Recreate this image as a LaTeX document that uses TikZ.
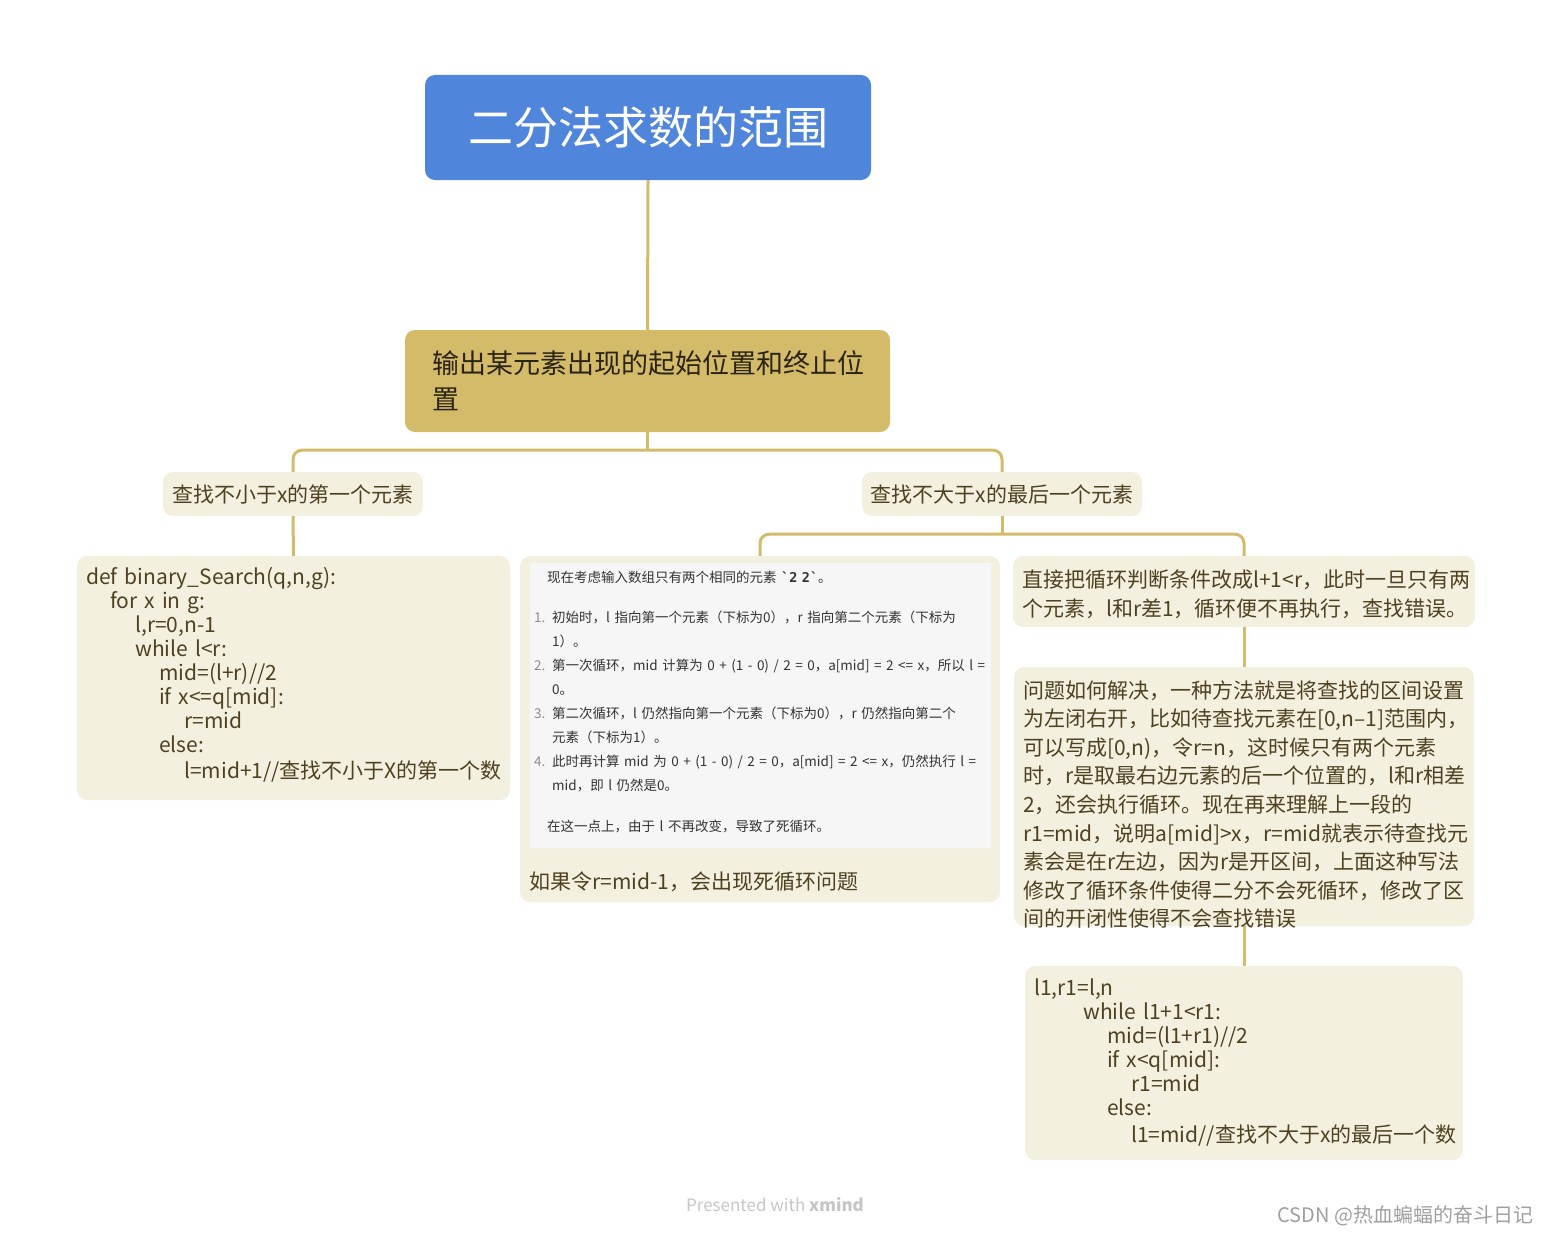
\documentclass[tikz,border=0pt]{standalone}
\usepackage{fontspec}
\setmainfont{Noto Sans CJK SC}
\setmonofont{DejaVu Sans Mono}
\usetikzlibrary{positioning, calc}
\definecolor{zhuti}{HTML}{4F86DB}
\definecolor{jin}{HTML}{D4BB6A}
\definecolor{mi}{HTML}{F4F0E0}
\definecolor{hui}{HTML}{F6F6F6}
\definecolor{he}{HTML}{4D4120}
\definecolor{heise}{HTML}{2A2414}
\definecolor{wenhui}{HTML}{333333}
\definecolor{xuhao}{HTML}{8C8C8C}
\newcommand{\zihao}[2]{\fontsize{#1}{#2}\selectfont}
\newcommand{\suojin}[1]{\hspace*{#1pt}}
\newcommand{\xh}[1]{\makebox[18pt][l]{\color{xuhao}#1}}

\begin{document}
\begin{tikzpicture}[x=1pt, y=-1pt,
    kuang/.style={rounded corners=10pt, inner sep=0pt, fill=mi, text=he},
    lian/.style={draw=jin, line width=3pt, rounded corners=9pt},
    wenzi/.style={anchor=base west, inner sep=0pt, align=left, text=he}]
  \useasboundingbox (0,0) rectangle (1552,1236);
  % 中心主题
  \node[kuang, fill=zhuti, minimum width=446, minimum height=105, text=white,
    font=\zihao{45}{54}] (title) at (648,127.5) {二分法求数的范围};
  \node[kuang, fill=jin, minimum width=485, minimum height=102, text width=431,
    inner xsep=27, align=left, text=heise, font=\zihao{27}{36}] (main) at (647.5,381)
    {输出某元素出现的起始位置和终止位\\置};
  % 分支
  \node[kuang, minimum width=260, minimum height=44, font=\zihao{21}{24}] (lsub)
    at (293,494) {查找不小于x的第一个元素};
  \node[kuang, minimum width=280, minimum height=44, font=\zihao{21}{24}] (rsub)
    at (1002,494) {查找不大于x的最后一个元素};
  % 内容框
  \node[kuang, minimum width=433, minimum height=244] (lcode) at (293.5,678) {};
  \node[kuang, minimum width=480, minimum height=346] (mbox) at (760,729) {};
  \node[fill=hui, inner sep=0pt, minimum width=461, minimum height=285] (mpanel)
    at (760.5,705.5) {};
  \node[kuang, minimum width=462, minimum height=71] (rtop) at (1244,591.5) {};
  \node[kuang, minimum width=460, minimum height=259] (rmid) at (1244,796.5) {};
  \node[kuang, minimum width=438, minimum height=194] (rcode) at (1244,1063) {};
  % 连线
  \coordinate (cha1) at ($(main.south)+(0,18)$);
  \coordinate (cha2) at ($(rsub.south)+(0,18)$);
  \draw[lian] (title.south) -- (main.north);
  \draw[lian] (main.south) -- (cha1);
  \draw[lian] (lsub.north) |- (cha1) -| (rsub.north);
  \draw[lian] (lsub.south) -- (lcode.north);
  \draw[lian] (rsub.south) -- (cha2);
  \draw[lian] (mbox.north) |- (cha2) -| (rtop.north);
  \draw[lian] (rtop.south) -- (rmid.north);
  \draw[lian] (rmid.south) -- (rcode.north);
  % 左侧代码
  \node[wenzi, text width=440, font=\zihao{21}{24}] (lcodetxt) at (86,584) {%
    def binary\_Search(q,n,g):\\
    \suojin{24}for x in g:\\
    \suojin{49}l,r=0,n-1\\
    \suojin{49}while l<r:\\
    \suojin{73}mid=(l+r)//2\\
    \suojin{73}if x<=q[mid]:\\
    \suojin{98}r=mid\\
    \suojin{73}else:\\[2pt]
    \suojin{98}l=mid+1//查找不小于X的第一个数};
  % 中间说明
  \node[wenzi, text width=455, text=wenhui, font=\zihao{13.5}{24}] (mtxt) at (534,582) {%
    \suojin{13}现在考虑输入数组只有两个相同的元素 {\ttfamily\bfseries `2 2`}。\\[16pt]
    \xh{1.}初始时，l 指向第一个元素（下标为0），r 指向第二个元素（下标为\\
    \suojin{18}1）。\\
    \xh{2.}第一次循环，mid 计算为 0 + (1 - 0) / 2 = 0，a[mid] = 2 <= x，所以 l =\\
    \suojin{18}0。\\
    \xh{3.}第二次循环，l 仍然指向第一个元素（下标为0），r 仍然指向第二个\\
    \suojin{18}元素（下标为1）。\\
    \xh{4.}此时再计算 mid 为 0 + (1 - 0) / 2 = 0，a[mid] = 2 <= x，仍然执行 l =\\
    \suojin{18}mid，即 l 仍然是0。\\[17pt]
    \suojin{13}在这一点上，由于 l 不再改变，导致了死循环。};
  \node[wenzi, text width=460, font=\zihao{21}{24}] (mnote) at (529,889)
    {如果令r=mid-1，会出现死循环问题};
  % 右侧说明
  \node[wenzi, text width=455, font=\zihao{21}{29}] (rtoptxt) at (1022,587) {%
    直接把循环判断条件改成l+1<r，此时一旦只有两\\
    个元素，l和r差1，循环便不再执行，查找错误。};
  \node[wenzi, text width=455, font=\zihao{21}{28.6}] (rmidtxt) at (1023,698) {%
    问题如何解决，一种方法就是将查找的区间设置\\
    为左闭右开，比如待查找元素在\mbox{[0,n–1]}范围内，\\
    可以写成[0,n)，令r=n，这时候只有两个元素\\
    时，r是取最右边元素的后一个位置的，l和r相差\\
    2，还会执行循环。现在再来理解上一段的\\
    r1=mid，说明a[mid]>x，r=mid就表示待查找元\\
    素会是在r左边，因为r是开区间，上面这种写法\\
    修改了循环条件使得二分不会死循环，修改了区\\
    间的开闭性使得不会查找错误};
  % 右下代码
  \node[wenzi, text width=430, font=\zihao{21}{24}] (rcodetxt) at (1034,995) {%
    l1,r1=l,n\\
    \suojin{49}while l1+1<r1:\\
    \suojin{73}mid=(l1+r1)//2\\
    \suojin{73}if x<q[mid]:\\
    \suojin{97}r1=mid\\
    \suojin{73}else:\\[3pt]
    \suojin{97}l1=mid//查找不大于x的最后一个数};
  % 页脚
  \node[font=\zihao{17}{20}, text=gray!45] (xmind) at (775,1205)
    {Presented with \textbf{xmind}};
  \node[font=\zihao{20}{24}, text=gray!75, anchor=east] (csdn) at (1537,1216)
    {CSDN @热血蝙蝠的奋斗日记};
\end{tikzpicture}
\end{document}
